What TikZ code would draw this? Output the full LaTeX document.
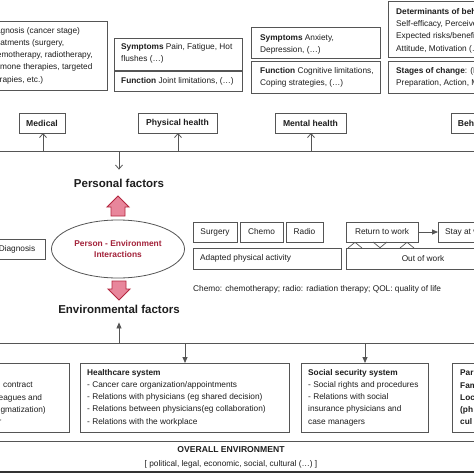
\documentclass[tikz,border=0pt]{standalone}
\usepackage{fontspec}
\setmainfont{Liberation Sans}
\usetikzlibrary{arrows.meta,shapes.geometric}
\definecolor{ln}{HTML}{555555}
\definecolor{txc}{HTML}{1E1E1E}
\definecolor{pinkfill}{HTML}{E8869B}
\definecolor{pinkline}{HTML}{B3263F}
\definecolor{darkred}{HTML}{A3223A}
\newcommand\ftxt{\fontsize{8.3}{12.25}\selectfont}
\newcommand\fcat{\fontsize{8.6}{10}\selectfont\bfseries}
\newcommand\fbig{\fontsize{11.5}{13}\selectfont\bfseries}
\newcommand\fpei{\fontsize{8.4}{11}\selectfont\bfseries}
\begin{document}
\begin{tikzpicture}[x=1pt,y=-1pt,
  bx/.style={draw=ln, line width=0.8pt, fill=white, inner sep=0pt, outer sep=0pt, anchor=north west, text=txc, font=\ftxt},
  cat/.style={bx, font=\fcat},
  tx/.style={inner sep=0pt, align=left, anchor=west, text=txc, font=\ftxt},
  bigtitle/.style={font=\fbig, text=txc, inner xsep=0pt, inner ysep=9pt},
  openarr/.style={draw=ln, line width=0.8pt, -{Straight Barb[length=4pt,width=7pt]}},
  fillarr/.style={draw=ln, line width=0.8pt, -{Triangle[length=6pt,width=5pt]}},
  tri/.style={draw=ln, line width=0.7pt},
  pinkarr/.style={fill=pinkfill, draw=pinkline, line width=0.9pt, line join=miter}
]
\useasboundingbox (0,0) rectangle (474,474);
\fill[white] (0,0) rectangle (474,474);
\clip (0,0) rectangle (474,474);

% ---------- top detail boxes ----------
\node[bx, minimum width=127.5pt, minimum height=69pt] (diagbox) at (-20,21) {};
\node[tx] (diagtext) at (-12,55.5) {Diagnosis (cancer stage)\\Treatments (surgery,\\chemotherapy, radiotherapy,\\hormone therapies, targeted\\therapies, etc.)};

\node[bx, minimum width=128pt, minimum height=32pt] (physsym) at (114,38) {};
\node[tx] (physsymt) at (121,53.5) {\textbf{Symptoms} Pain, Fatigue, Hot\\flushes (…)};
\node[bx, minimum width=128pt, minimum height=20pt] (physfun) at (114,71) {};
\node[tx] (physfunt) at (121,81) {\textbf{Function} Joint limitations, (…)};

\node[bx, minimum width=129pt, minimum height=31pt] (mentsym) at (251,27) {};
\node[tx] (mentsymt) at (260,44.5) {\textbf{Symptoms} Anxiety,\\Depression, (…)};
\node[bx, minimum width=129pt, minimum height=32pt] (mentfun) at (251,61) {};
\node[tx] (mentfunt) at (260,77) {\textbf{Function} Cognitive limitations,\\Coping strategies, (…)};

\node[bx, minimum width=120pt, minimum height=56pt] (detbox) at (388,1) {};
\node[tx] (dett) at (396,30.5) {\textbf{Determinants of behaviour}\\Self-efficacy, Perceived\\Expected risks/benefits\\Attitude, Motivation (…)};
\node[bx, minimum width=120pt, minimum height=32pt] (stagebox) at (388,61) {};
\node[tx] (staget) at (396,77.5) {\textbf{Stages of change}: (Precontemplation,\\Preparation, Action, Maintenance)};

% ---------- category row ----------
\node[cat, minimum width=46pt, minimum height=20pt] (medical) at (19,113) {Medical};
\node[cat, minimum width=79pt, minimum height=20pt] (physical) at (138,113) {Physical health};
\node[cat, minimum width=71pt, minimum height=20pt] (mental) at (275,113) {Mental health};
\node[cat, minimum width=56pt, minimum height=20pt] (behaviour) at (451,113) {Behaviour};

\coordinate (pl) at (-5,151);
\coordinate (pr) at (500,151);
\coordinate (am) at (43,151);
\coordinate (ap) at (178,151);
\coordinate (amh) at (311,151);
\coordinate (ab) at (479,151);
\coordinate (pd) at (119,151);
\draw[draw=ln, line width=0.8pt] (pl) -- (pr);
\draw[openarr] (am) -- (am |- medical.south);
\draw[openarr] (ap) -- (ap |- physical.south);
\draw[openarr] (amh) -- (amh |- mental.south);
\draw[openarr] (ab) -- (ab |- behaviour.south);

\node[bigtitle] (personal) at (119,183) {Personal factors};
\draw[openarr] (pd) -- (personal.north);

% ---------- pink arrows and ellipse ----------
\draw[pinkarr] (118,196) -- (129,207) -- (125,207) -- (125,216) -- (111,216) -- (111,207) -- (107,207) -- cycle;
\draw[pinkarr] (119,300) -- (130,289) -- (126,289) -- (126,281) -- (112,281) -- (112,289) -- (108,289) -- cycle;
\node[ellipse, draw=ln, line width=0.8pt, minimum width=133pt, minimum height=58pt, inner sep=0pt,
      align=center, font=\fpei, text=darkred] (pei) at (118,249) {Person - Environment\\Interactions};

\node[bx, minimum width=56pt, minimum height=20pt] (diag) at (-11,239) {Diagnosis};

% ---------- treatment / work boxes ----------
\node[bx, minimum width=44pt, minimum height=20pt] (surgery) at (193,222) {Surgery};
\node[bx, minimum width=43pt, minimum height=20pt] (chemo) at (240,222) {Chemo};
\node[bx, minimum width=37pt, minimum height=20pt] (radio) at (286,222) {Radio};
\node[bx, minimum width=148pt, minimum height=21pt] (adapted) at (193,248) {};
\node[tx] (adaptedt) at (200,258.5) {Adapted physical activity};

\node[bx, minimum width=72pt, minimum height=20pt] (rtw) at (346,222) {Return to work};
\node[bx, minimum width=60pt, minimum height=20pt] (stay) at (438,222) {};
\node[tx] (stayt) at (445,232) {Stay at work};
\node[bx, minimum width=160pt, minimum height=21pt] (oow) at (346,248) {};
\node[tx, anchor=center] (oowt) at (423,258.5) {Out of work};
\draw[fillarr] (rtw.east) -- (stay.west);

\draw[tri] (348,248) -- (355,242.3) -- (362,248);
\draw[tri] (373,242) -- (380,247.7) -- (387,242);
\draw[tri] (400,248) -- (407,242.3) -- (414,248);

\node[tx] (caption) at (193,289) {Chemo: chemotherapy; radio: radiation therapy; QOL: quality of life};

% ---------- environmental factors ----------
\node[bigtitle] (environ) at (119,309) {Environmental factors};
\coordinate (el) at (-5,343);
\coordinate (er) at (500,343);
\coordinate (eu) at (119,343);
\coordinate (eh) at (185,343);
\coordinate (es) at (365,343);
\draw[draw=ln, line width=0.8pt] (el) -- (er);
\draw[fillarr] (eu) -- (environ.south);

\node[bx, minimum width=169pt, minimum height=69pt] (workbox) at (-100,363) {};
\node[tx] (workt) at (-1.5,403.5) {\hspace*{4.5pt}contract\\eagues and\\igmatization)\\r};

\node[bx, minimum width=209pt, minimum height=69pt] (health) at (80,363) {};
\node[tx] (healtht) at (87,397.5) {\textbf{Healthcare system}\\- Cancer care organization/appointments\\- Relations with physicians (eg shared decision)\\- Relations between physicians(eg collaboration)\\- Relations with the workplace};

\node[bx, minimum width=127pt, minimum height=69pt] (social) at (301,363) {};
\node[tx] (socialt) at (308,397.5) {\textbf{Social security system}\\- Social rights and procedures\\- Relations with social\\insurance physicians and\\case managers};

\node[bx, minimum width=100pt, minimum height=69pt] (privbox) at (452,363) {};
\node[tx, font=\ftxt\bfseries] (privt) at (460,397.5) {Par\\Fam\\Loc\\(ph\\cul};

\draw[fillarr] (eh) -- (eh |- health.north);
\draw[fillarr] (es) -- (es |- social.north);

% ---------- overall environment ----------
\node[bx, minimum width=500pt, minimum height=31pt] (overall) at (-10,441) {};
\draw[draw=black!80, line width=2.5pt] (overall.south west) -- (overall.south east);
\node[font=\fcat, text=txc, inner sep=0pt] (overallt) at (231,450) {OVERALL ENVIRONMENT};
\node[font=\ftxt, text=txc, inner sep=0pt] (overalls) at (231,464) {[ political, legal, economic, social, cultural (…) ]};
\end{tikzpicture}
\end{document}
